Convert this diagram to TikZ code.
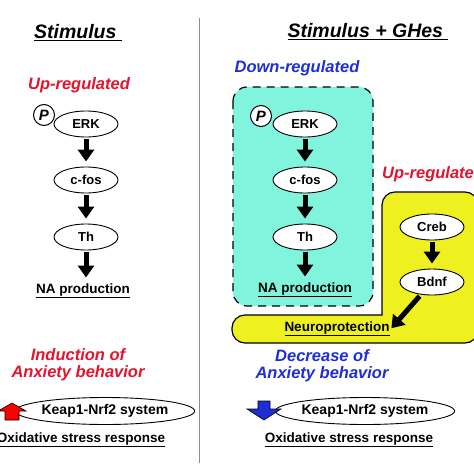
\documentclass[tikz,border=0pt]{standalone}
\usepackage{fontspec}
\setmainfont{Liberation Sans}
\usetikzlibrary{arrows.meta,positioning,shapes.geometric}
\definecolor{upred}{HTML}{E2142E}
\definecolor{downblue}{HTML}{1E2ED6}
\definecolor{aqua}{HTML}{80F4DC}
\definecolor{lemon}{HTML}{EFF020}
\tikzset{oval/.style={draw,ellipse,fill=white,line width=0.9pt,minimum width=64pt,minimum height=26pt,inner sep=0pt,font=\bfseries\fontsize{13}{15}\selectfont},keapbox/.style={oval,minimum width=152pt,minimum height=27pt,font=\bfseries\fontsize{14}{16}\selectfont},phos/.style={draw,circle,fill=white,minimum size=21pt,inner sep=0pt,line width=1pt,font=\bfseries\itshape\fontsize{15}{15}\selectfont},arrow/.style={-{Triangle[length=12pt,width=16pt]},line width=5pt,shorten <=2pt,shorten >=5pt},ttl/.style={font=\bfseries\itshape\fontsize{19.5}{22}\selectfont},lab/.style={font=\bfseries\itshape\fontsize{16.5}{17}\selectfont,align=center,inner sep=0pt},result/.style={font=\bfseries\fontsize{13.5}{15}\selectfont,inner sep=1pt}}

\begin{document}
\begin{tikzpicture}[x=1pt,y=-1pt]
\useasboundingbox[fill=white] (0,0) rectangle (474,474);
\draw[fill=lemon,draw=black,line width=1.2pt,rounded corners=13pt] (382,315) -- (382,192) -- (478,192) -- (478,343) -- (232,343) -- (232,315) [sharp corners] -- cycle;
\draw[fill=aqua,dash pattern=on 8pt off 6pt,line width=1.2pt,rounded corners=14pt] (233,87) rectangle (373,306);
\draw[black!45,line width=0.8pt] (199,18) -- (199,463);
\node[ttl] (t1) at (78,33) {\underline{Stimulus\ }};
\node[ttl] (t2) at (368,32) {\underline{Stimulus + GHes\ }};
% left side
\node[lab,text=upred] (upL) at (79,85) {Up-regulated};
\node[oval] (erkL) at (86,124) {ERK};
\node[phos] (pL) at (44,115) {P};
\node[oval] (cfosL) at (86,180) {c-fos};
\node[oval] (thL) at (86,237) {Th};
\node[result] (naL) at (83,291) {\underline{NA production}};
\draw[arrow](erkL)--(cfosL);\draw[arrow](cfosL)--(thL);\draw[arrow](thL)--(thL|-naL.north);
\node[lab,text=upred] (indL) at (78,365) {Induction of\\Anxiety behavior};
\node[keapbox] (keapL) at (105,411) {Keap1-Nrf2 system};
\node[result] (oxL) at (81,440) {\underline{Oxidative stress response}};
\draw[fill=red,line width=0.6pt] (12,403) -- (26,411) -- (19,411) -- (19,420) -- (5,420) -- (5,411) -- (-2,411) -- cycle;
% right side
\node[lab,text=downblue] (downR) at (297,68) {Down-regulated};
\node[oval] (erkR) at (305,124) {ERK};
\node[phos] (pR) at (261,116) {P};
\node[oval] (cfosR) at (305,180) {c-fos};
\node[oval] (thR) at (305,237) {Th};
\node[result] (naR) at (305,290) {\underline{NA production}};
\draw[arrow](erkR)--(cfosR);\draw[arrow](cfosR)--(thR);\draw[arrow](thR)--(thR|-naR.north);
\node[lab,text=upred,anchor=west] (upR) at (382,174) {Up-regulated};
\node[oval] (creb) at (432,227) {Creb};
\node[oval] (bdnf) at (432,282) {Bdnf};
\node[result] (neuro) at (337,329) {\underline{Neuroprotection}};
\draw[arrow](creb)--(bdnf);\draw[arrow,shorten >=1pt](bdnf)--(neuro.east);
\node[lab,text=downblue] (decR) at (322,366) {Decrease of\\Anxiety behavior};
\node[keapbox] (keapR) at (365,411) {Keap1-Nrf2 system};
\node[result] (oxR) at (349,440) {\underline{Oxidative stress response}};
\draw[fill=downblue,line width=0.6pt] (258,401) -- (270,401) -- (270,409) -- (281,409) -- (264,420) -- (247,409) -- (258,409) -- cycle;
\end{tikzpicture}
\end{document}
